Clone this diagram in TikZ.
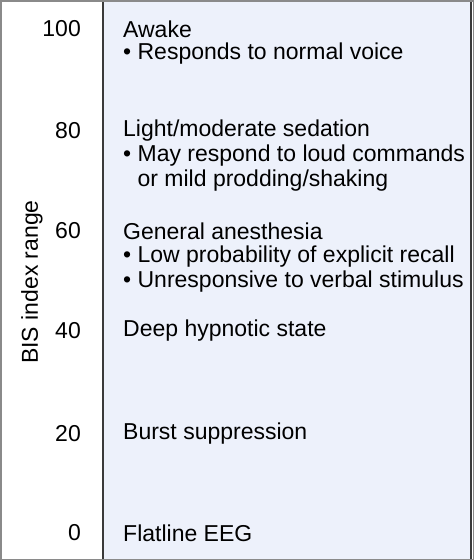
\documentclass[tikz,border=0pt]{standalone}
\usepackage{fontspec}
\setmainfont{Liberation Sans}
\definecolor{panel}{HTML}{EDF1FB}
\definecolor{frame}{HTML}{8A8A8A}
\definecolor{divider}{HTML}{3A3A3A}
\tikzset{
  tick/.style={anchor=east, inner sep=0pt, font=\fontsize{23}{27}\selectfont},
  desc/.style={anchor=west, inner sep=0pt, font=\fontsize{23}{27}\selectfont},
}
\begin{document}
\begin{tikzpicture}[x=1pt,y=-1pt]
\useasboundingbox (0,0) rectangle (474,560);
\fill[panel] (103,0) rectangle (471,560);
\draw[divider, line width=1.5pt] (103,0) -- (103,560);
\draw[divider, line width=2pt] (471,0) -- (471,560);
\draw[frame, line width=3pt] (0,0) rectangle (474,560);
% ticks
\node[tick] (t100) at (81,29) {100};
\node[tick] (t80) at (81,131) {80};
\node[tick] (t60) at (81,231) {60};
\node[tick] (t40) at (81,331) {40};
\node[tick] (t20) at (81,434) {20};
\node[tick] (t0) at (81,533) {0};
\node[rotate=90, inner sep=0pt, font=\fontsize{23}{27}\selectfont] (axis) at (32,282) {BIS index range};
% descriptions
\node[desc] (a1) at (123,29) {Awake};
\node[desc] (a2) at (123,54) {\textbullet\ Responds to normal voice};
\node[desc] (b1) at (123,131) {Light/moderate sedation};
\node[desc] (b2) at (123,156) {\textbullet\ May respond to loud commands};
\node[desc] (b3) at (123,181) {\phantom{\textbullet\ }or mild prodding/shaking};
\node[desc] (c1) at (123,231) {General anesthesia};
\node[desc] (c2) at (123,257) {\textbullet\ Low probability of explicit recall};
\node[desc] (c3) at (123,282) {\textbullet\ Unresponsive to verbal stimulus};
\node[desc] (d1) at (123,331) {Deep hypnotic state};
\node[desc] (e1) at (123,434) {Burst suppression};
\node[desc] (f1) at (123,533) {Flatline EEG};
\end{tikzpicture}
\end{document}
